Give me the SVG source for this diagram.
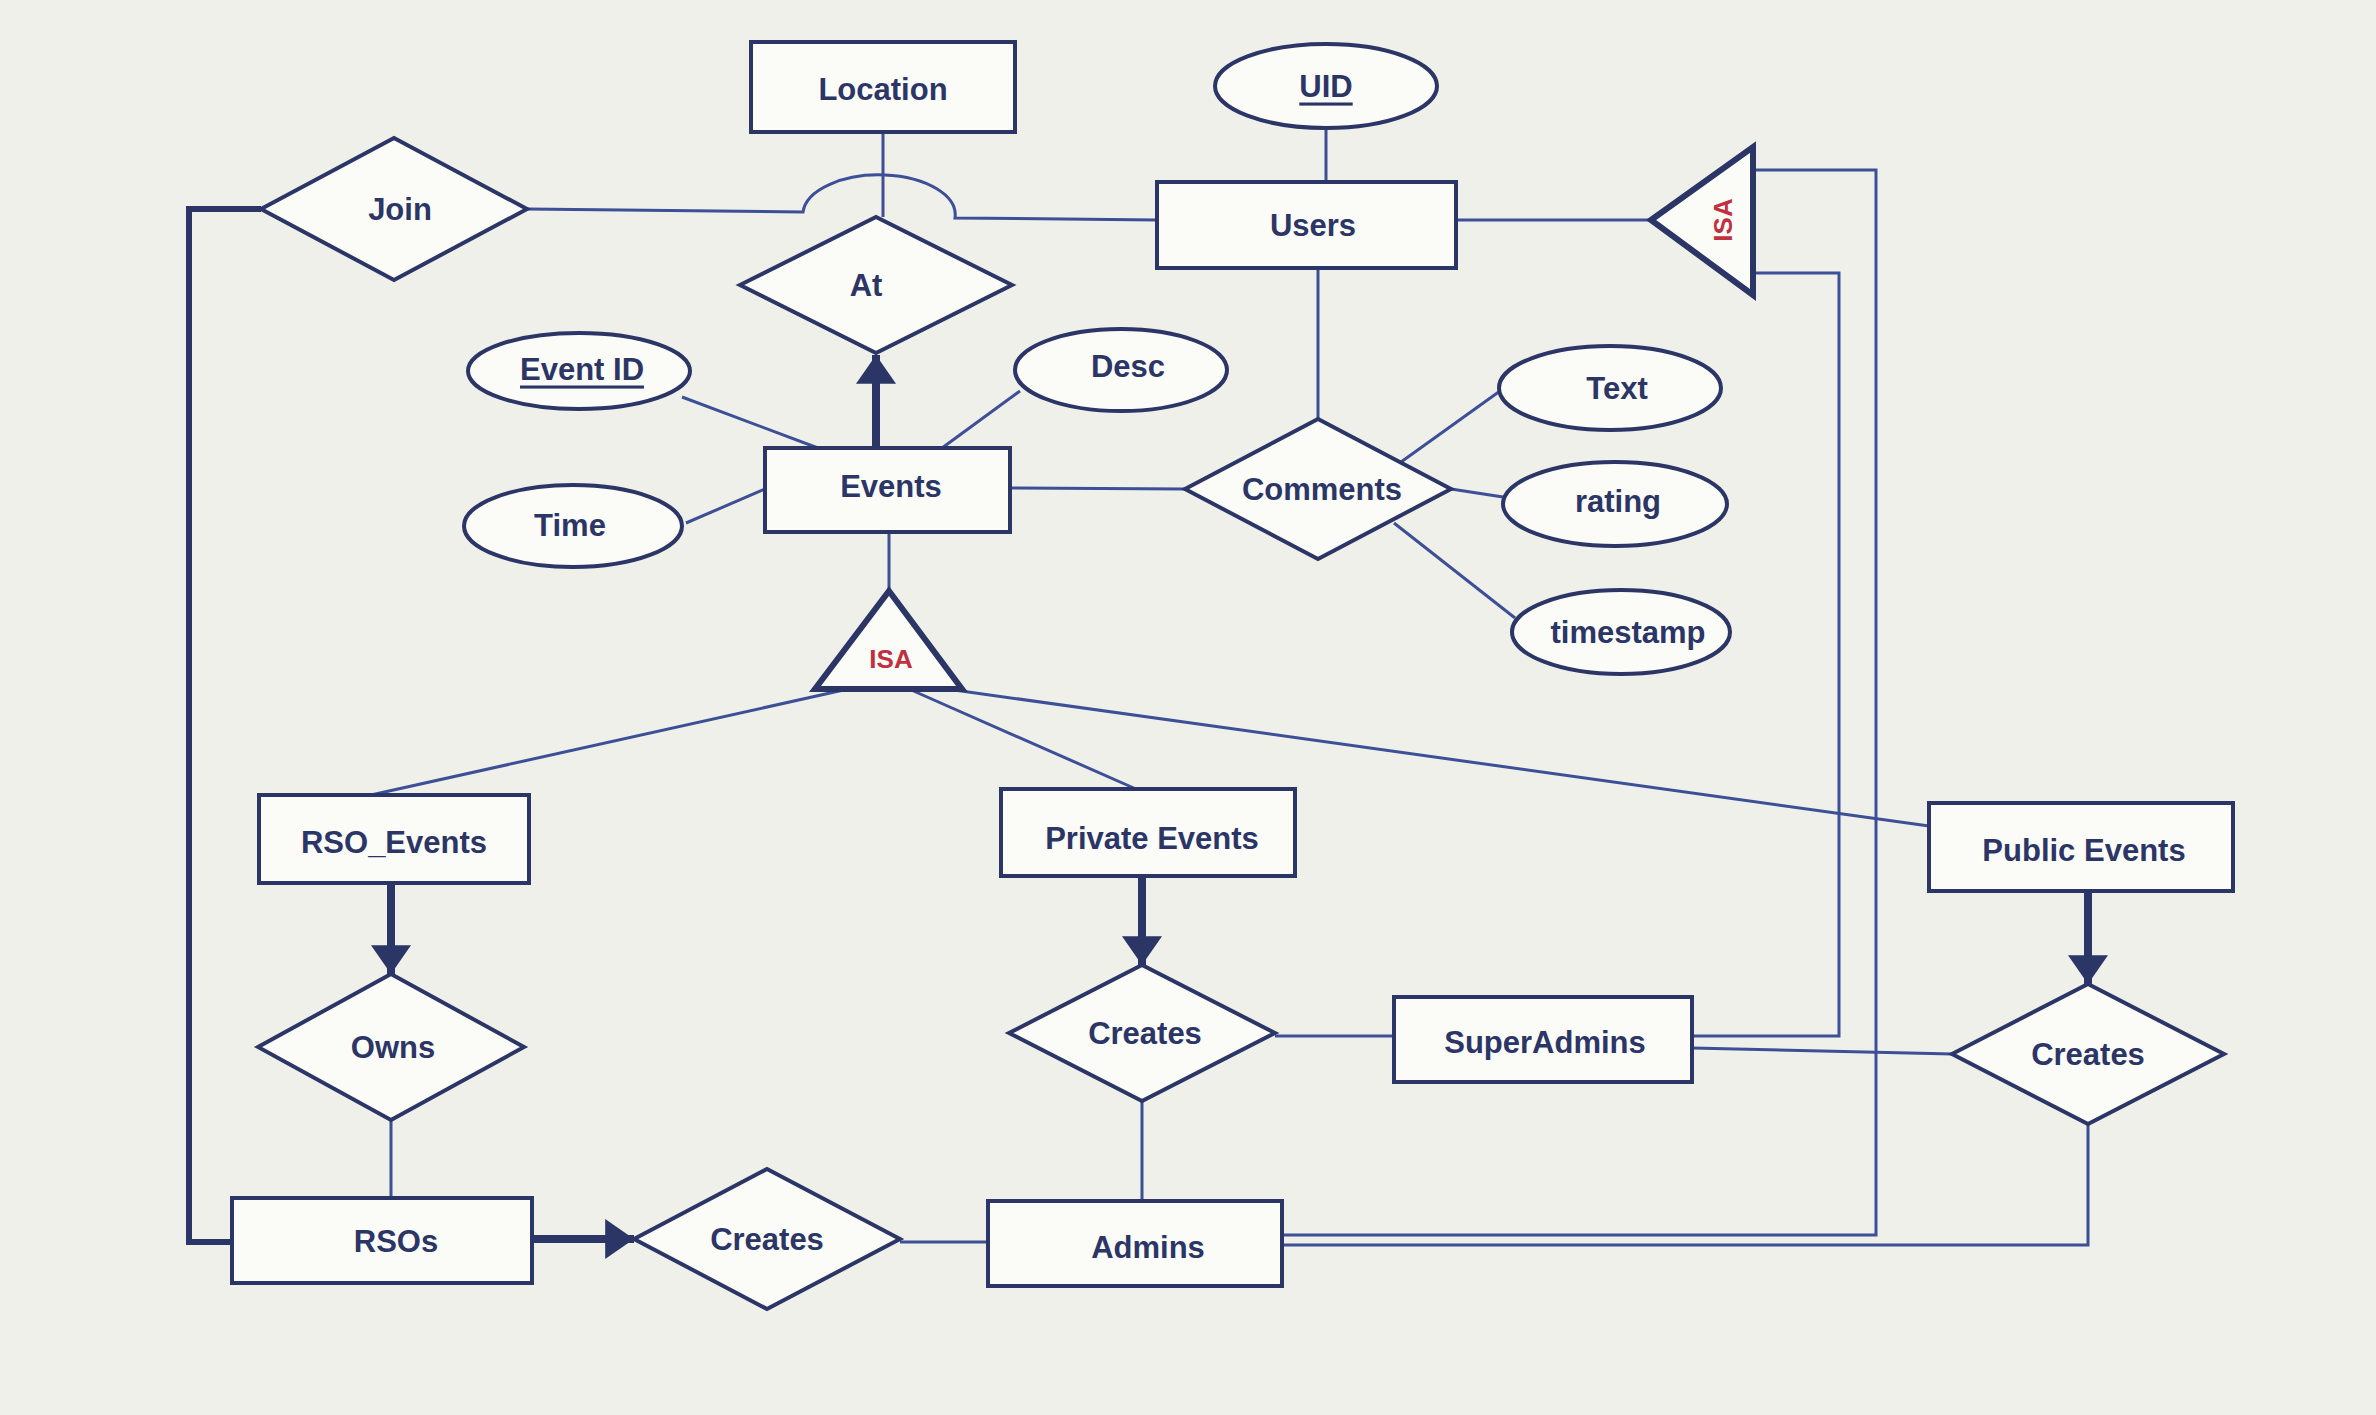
<svg xmlns="http://www.w3.org/2000/svg" width="2376" height="1415" viewBox="0 0 2376 1415">
<style>
.s{fill:#fbfcf8;stroke:#2b3566;stroke-width:4}
.t{font-family:"Liberation Sans",Arial,sans-serif;font-weight:bold;font-size:31px;fill:#2b3566;text-anchor:middle;dominant-baseline:central}
.c line,.c polyline,.c path{stroke:#3d4f96;stroke-width:3;fill:none}
.c .k{stroke:#2b3566;stroke-width:8}
.r{fill:#c03040;font-size:26px}
</style>
<defs><marker id="a" markerWidth="5" markerHeight="5" refX="3.6" refY="2.5" orient="auto"><path d="M0,0L3.6,2.5L0,5z" fill="#2b3566"/></marker></defs>
<rect width="2376" height="1415" fill="#eef0e9"/>
<g class="c">
<line x1="883" y1="132" x2="883" y2="217"/>
<path d="M527,209L803,212A76,40 0 0 1 955,218L1157,220"/>
<polyline class="k" points="261,209 189,209 189,1242 232,1242" style="stroke-width:6"/>
<line x1="1326" y1="128" x2="1326" y2="182"/>
<line x1="1456" y1="220" x2="1651" y2="220"/>
<polyline points="1753,170 1876,170 1876,1235 1282,1235"/>
<polyline points="1753,273 1839,273 1839,1036 1692,1036"/>
<line x1="1692" y1="1048" x2="1952" y2="1054"/>
<polyline points="1282,1245 2088,1245 2088,1124"/>
<line x1="1318" y1="268" x2="1318" y2="419"/>
<line x1="1010" y1="488" x2="1185" y2="489"/>
<line x1="1401" y1="462" x2="1500" y2="391"/>
<line x1="1451" y1="489" x2="1503" y2="497"/>
<line x1="1394" y1="523" x2="1515" y2="618"/>
<line class="k" x1="876" y1="448" x2="876" y2="355" marker-end="url(#a)"/>
<line x1="682" y1="397" x2="818" y2="448"/>
<line x1="1020" y1="391" x2="942" y2="448"/>
<line x1="686" y1="523" x2="765" y2="489"/>
<line x1="889" y1="532" x2="889" y2="591"/>
<line x1="848" y1="689" x2="371" y2="795"/>
<line x1="909" y1="689" x2="1136" y2="789"/>
<line x1="947" y1="689" x2="1929" y2="826"/>
<line class="k" x1="391" y1="883" x2="391" y2="974" marker-end="url(#a)"/>
<line x1="391" y1="1120" x2="391" y2="1198"/>
<line class="k" x1="1142" y1="876" x2="1142" y2="965" marker-end="url(#a)"/>
<line x1="1275" y1="1036" x2="1394" y2="1036"/>
<line x1="1142" y1="1101" x2="1142" y2="1201"/>
<line class="k" x1="2088" y1="891" x2="2088" y2="984" marker-end="url(#a)"/>
<line class="k" x1="532" y1="1239" x2="634" y2="1239" marker-end="url(#a)"/>
<line x1="900" y1="1242" x2="988" y2="1242"/>
</g>
<g id="location"><rect class="s" x="751" y="42" width="264" height="90"/><text class="t" x="883" y="89">Location</text></g>
<g id="uid"><ellipse class="s" cx="1326" cy="86" rx="111" ry="42"/><text class="t" x="1326" y="86" text-decoration="underline">UID</text></g>
<g id="users"><rect class="s" x="1157" y="182" width="299" height="86"/><text class="t" x="1313" y="225">Users</text></g>
<g id="isa2"><polygon class="s" points="1651,220 1753,147 1753,295" style="stroke-width:6"/><text class="t r" transform="translate(1723,220) rotate(-90)">ISA</text></g>
<g id="join"><polygon class="s" points="261,209 394,138 527,209 394,280"/><text class="t" x="400" y="209">Join</text></g>
<g id="at"><polygon class="s" points="740,285 876,217 1012,285 876,353"/><text class="t" x="866" y="285">At</text></g>
<g id="eventid"><ellipse class="s" cx="579" cy="371" rx="111" ry="38"/><text class="t" x="582" y="369" text-decoration="underline">Event ID</text></g>
<g id="desc"><ellipse class="s" cx="1121" cy="370" rx="106" ry="41"/><text class="t" x="1128" y="366">Desc</text></g>
<g id="text"><ellipse class="s" cx="1610" cy="388" rx="111" ry="42"/><text class="t" x="1617" y="388">Text</text></g>
<g id="events"><rect class="s" x="765" y="448" width="245" height="84"/><text class="t" x="891" y="486">Events</text></g>
<g id="time"><ellipse class="s" cx="573" cy="526" rx="109" ry="41"/><text class="t" x="570" y="525">Time</text></g>
<g id="comments"><polygon class="s" points="1185,489 1318,419 1451,489 1318,559"/><text class="t" x="1322" y="489">Comments</text></g>
<g id="rating"><ellipse class="s" cx="1615" cy="504" rx="112" ry="42"/><text class="t" x="1618" y="501">rating</text></g>
<g id="timestamp"><ellipse class="s" cx="1621" cy="632" rx="109" ry="42"/><text class="t" x="1628" y="632">timestamp</text></g>
<g id="isa1"><polygon class="s" points="889,591 962,689 815,689" style="stroke-width:6"/><text class="t r" x="891" y="659">ISA</text></g>
<g id="rsoevents"><rect class="s" x="259" y="795" width="270" height="88"/><text class="t" x="394" y="842">RSO_Events</text></g>
<g id="privateevents"><rect class="s" x="1001" y="789" width="294" height="87"/><text class="t" x="1152" y="838">Private  Events</text></g>
<g id="publicevents"><rect class="s" x="1929" y="803" width="304" height="88"/><text class="t" x="2084" y="850">Public  Events</text></g>
<g id="owns"><polygon class="s" points="258,1047 391,974 524,1047 391,1120"/><text class="t" x="393" y="1047">Owns</text></g>
<g id="creates1"><polygon class="s" points="1009,1033 1142,965 1275,1033 1142,1101"/><text class="t" x="1145" y="1033">Creates</text></g>
<g id="superadmins"><rect class="s" x="1394" y="997" width="298" height="85"/><text class="t" x="1545" y="1042">SuperAdmins</text></g>
<g id="creates2"><polygon class="s" points="1952,1054 2088,984 2224,1054 2088,1124"/><text class="t" x="2088" y="1054">Creates</text></g>
<g id="rsos"><rect class="s" x="232" y="1198" width="300" height="85"/><text class="t" x="396" y="1241">RSOs</text></g>
<g id="creates3"><polygon class="s" points="634,1239 767,1169 900,1239 767,1309"/><text class="t" x="767" y="1239">Creates</text></g>
<g id="admins"><rect class="s" x="988" y="1201" width="294" height="85"/><text class="t" x="1148" y="1247">Admins</text></g>
</svg>
